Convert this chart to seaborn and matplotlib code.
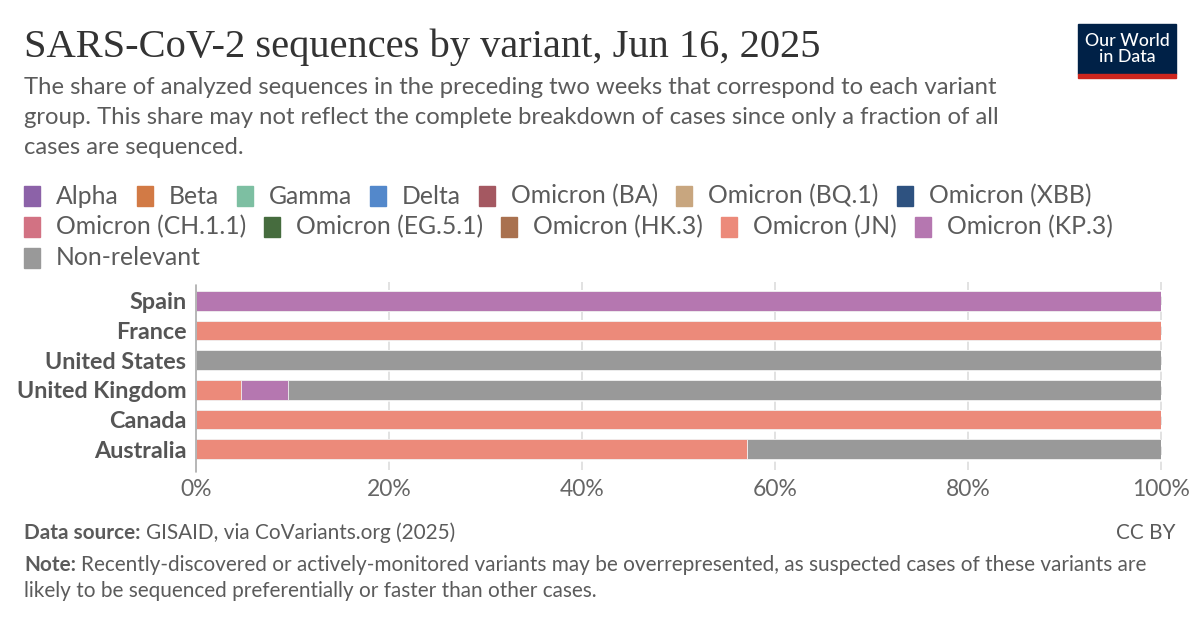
import matplotlib
matplotlib.use("Agg")
import matplotlib.pyplot as plt
from matplotlib.patches import Rectangle
import seaborn as sns
import pandas as pd
import numpy as np

# ---- data ----
countries = ["Spain", "France", "United States", "United Kingdom", "Canada", "Australia"]
omicron_jn = [0, 100, 0, 4.7, 100, 57.1]
omicron_kp3 = [100, 0, 0, 4.8, 0, 0]
non_relevant = [0, 0, 100, 90.5, 0, 42.9]

legend_labels = ["Alpha", "Beta", "Gamma", "Delta", "Omicron (BA)", "Omicron (BQ.1)",
                 "Omicron (XBB)", "Omicron (CH.1.1)", "Omicron (EG.5.1)", "Omicron (HK.3)",
                 "Omicron (JN)", "Omicron (KP.3)", "Non-relevant"]
legend_colors = ["#8C62A8", "#D27A45", "#7DBFA2", "#5388CB", "#A45861", "#C8A67F",
                 "#2E5280", "#D27283", "#466C3E", "#A9714F", "#EC8A7A", "#B577B0", "#999999"]
x_ticks = [0, 20, 40, 60, 80, 100]
x_ticklabels = ["0%", "20%", "40%", "60%", "80%", "100%"]

title = "SARS-CoV-2 sequences by variant, Jun 16, 2025"
subtitle_lines = ["The share of analyzed sequences in the preceding two weeks that correspond to each variant",
                  "group. This share may not reflect the complete breakdown of cases since only a fraction of all",
                  "cases are sequenced."]

sns.set_theme(style="white")
plt.rcParams["font.family"] = ["Lato", "DejaVu Sans"]

W, H = 1200, 627
fig = plt.figure(figsize=(12, 6.27), dpi=100)

ax = fig.add_axes([196 / W, 1 - 464 / H, (1161 - 196) / W, (464 - 286) / H])

df = pd.DataFrame({"country": countries,
                   "jn": omicron_jn, "kp3": omicron_kp3, "nr": non_relevant})
df["c1"] = df["jn"]
df["c2"] = df["jn"] + df["kp3"]
df["c3"] = df["c2"] + df["nr"]

col = dict(zip(legend_labels, legend_colors))
for cum, name in [("c3", "Non-relevant"), ("c2", "Omicron (KP.3)"), ("c1", "Omicron (JN)")]:
    sns.barplot(data=df, x=cum, y="country", order=countries, orient="h",
                color=col[name], saturation=1, width=0.66, edgecolor="#f2f2f2",
                linewidth=0.6, ax=ax, zorder=3)

ax.set_xlim(0, 100)
ax.set_ylim(5.5, -0.5)
ax.set_xlabel("")
ax.set_ylabel("")
ax.set_xticks(x_ticks)
ax.set_xticklabels(x_ticklabels, fontsize=16.5, color="#666666")
ax.tick_params(axis="x", length=0, pad=11)
ax.tick_params(axis="y", length=0, pad=7)
for lab in ax.get_yticklabels():
    lab.set_fontsize(16.8)
    lab.set_fontweight("bold")
    lab.set_color("#555555")
for s in ["top", "right", "bottom", "left"]:
    ax.spines[s].set_visible(False)
for xv in x_ticks[1:]:
    ax.plot([xv, xv], [5.7, -0.62], color="#dddddd", lw=1.2, ls=(0, (5, 4)),
            zorder=1, clip_on=False)
ax.plot([0, 0], [5.78, -0.55], color="#aaaaaa", lw=1.2, zorder=4, clip_on=False)

# ---- title / subtitle ----
fig.text(24 / W, 1 - 47 / H, title, fontsize=29.2, family=["Liberation Serif"],
         color="#333333", va="center", ha="left")
for i, line in enumerate(subtitle_lines):
    fig.text(24 / W, 1 - (88 + 29.5 * i) / H, line, fontsize=17.2, color="#5b5b5b",
             va="center", ha="left")

# ---- logo ----
fig.patches.append(Rectangle((1078 / W, 1 - 74 / H), 98 / W, 50 / H,
                             transform=fig.transFigure, color="#002147", zorder=5))
fig.patches.append(Rectangle((1078 / W, 1 - 78 / H), 98 / W, 4 / H,
                             transform=fig.transFigure, color="#ce261e", zorder=5))
fig.text(1127 / W, 1 - 49 / H, "Our World\nin Data", fontsize=12.8, color="white",
         fontweight="medium", ha="center", va="center", linespacing=1.05, zorder=6)

# ---- legend ----
fig.canvas.draw()
renderer = fig.canvas.get_renderer()
x = 24
row_y = [196, 227, 258]
row = 0
max_x = 1180
for lab, c in zip(legend_labels, legend_colors):
    t = fig.text(0, 0, lab, fontsize=17.8, color="#5b5b5b", va="center", ha="left")
    tw = t.get_window_extent(renderer).width
    item_w = 32 + tw
    if x + item_w > max_x:
        row += 1
        x = 24
    yc = row_y[row]
    fig.patches.append(Rectangle((x / W, 1 - (yc + 10) / H), 16 / W, 20 / H,
                                 transform=fig.transFigure, color=c))
    t.set_position(((x + 32) / W, 1 - yc / H))
    x += item_w + 18

# ---- footer ----
def label_pair(xpx, ypx, bold, rest, fs=14.95):
    tb = fig.text(xpx / W, 1 - ypx / H, bold, fontsize=fs, fontweight="bold",
                  color="#5b5b5b", va="center", ha="left")
    bw = tb.get_window_extent(renderer).width
    fig.text((xpx + bw + 5) / W, 1 - ypx / H, rest, fontsize=fs,
             color="#5b5b5b", va="center", ha="left")

label_pair(24, 533, "Data source:", "GISAID, via CoVariants.org (2025)")
fig.text(1176 / W, 1 - 533 / H, "CC BY", fontsize=14.95, color="#5b5b5b",
         va="center", ha="right")
label_pair(24, 565, "Note:",
           "Recently-discovered or actively-monitored variants may be overrepresented, as suspected cases of these variants are")
fig.text(24 / W, 1 - 591 / H,
         "likely to be sequenced preferentially or faster than other cases.",
         fontsize=14.95, color="#5b5b5b", va="center", ha="left")

fig.savefig("out.png", dpi=100, facecolor="white")
